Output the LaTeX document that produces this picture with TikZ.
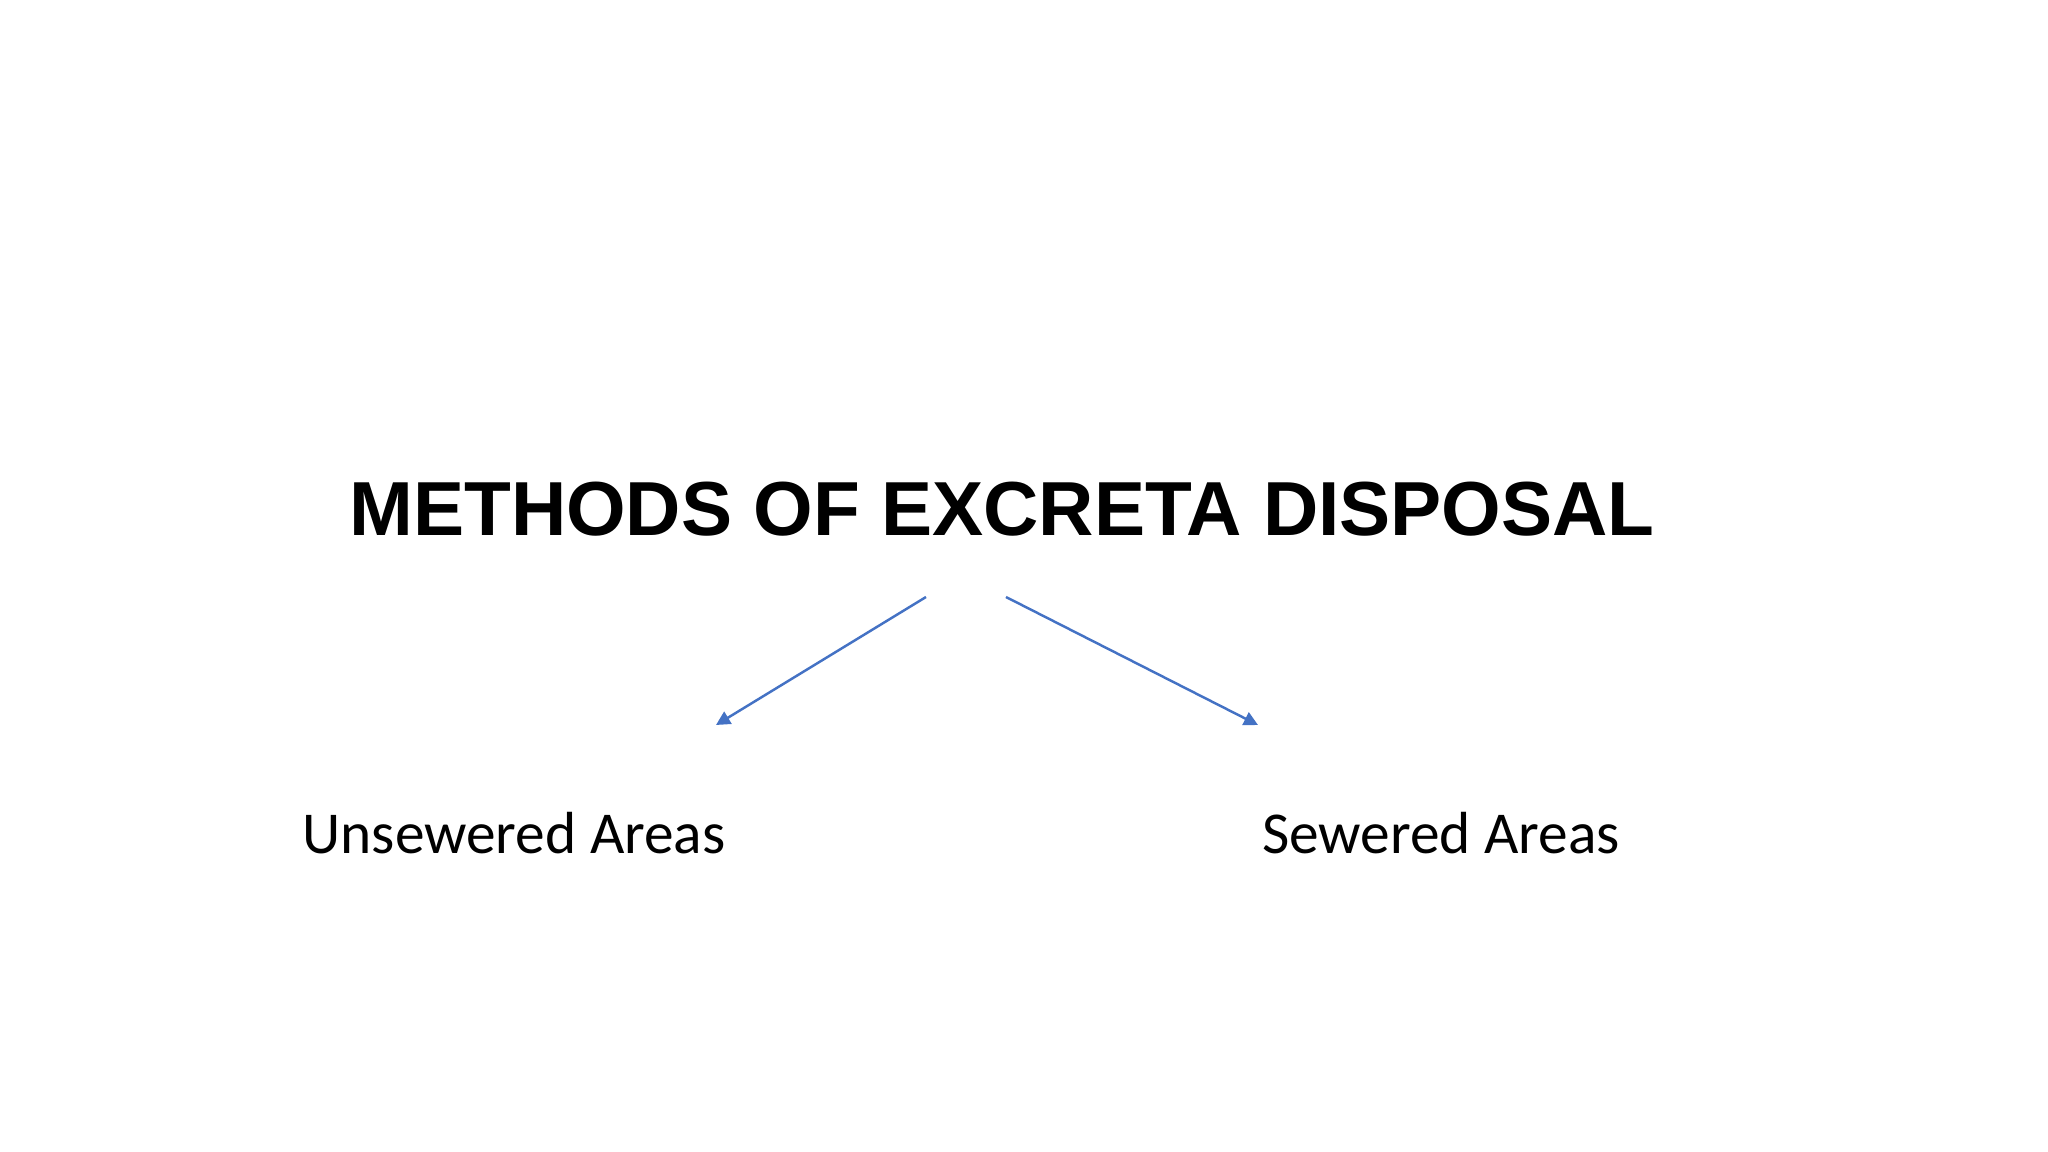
\documentclass[tikz,border=0pt]{standalone}
\usepackage{fontspec}
\setmainfont{Liberation Sans}
\newfontfamily\calib{Carlito}
\usetikzlibrary{arrows.meta}
\definecolor{arrowblue}{HTML}{4472C4}
\tikzset{
  title/.style={font=\fontsize{21.8}{26}\selectfont\bfseries, inner sep=0pt},
  label/.style={font=\calib\fontsize{16.9}{20}\selectfont, inner sep=0pt},
  conn/.style={draw=arrowblue, line width=0.7pt, -{Triangle[length=4pt,width=4pt]}}
}
\begin{document}
\begin{tikzpicture}
\useasboundingbox (0,0) rectangle (20.48,-11.52);
\node[title] (t) at (10.02,-5.09) {METHODS OF EXCRETA DISPOSAL};
\coordinate (ls) at (9.26,-5.97);
\coordinate (le) at (7.16,-7.25);
\coordinate (rs) at (10.06,-5.97);
\coordinate (re) at (12.58,-7.25);
\draw[conn] (ls) -- (le);
\draw[conn] (rs) -- (re);
\node[label] (u) at (5.14,-8.33) {Unsewered Areas};
\node[label] (s) at (14.41,-8.33) {Sewered Areas};
\end{tikzpicture}
\end{document}
